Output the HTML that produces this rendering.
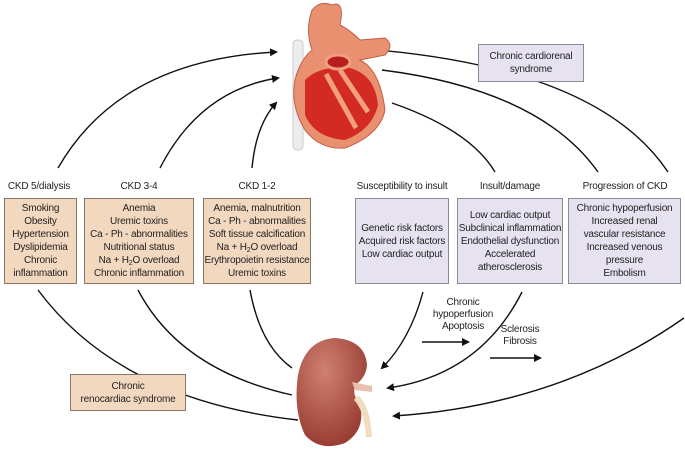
<!DOCTYPE html>
<html><head><style>
body{margin:0;background:#fff;}
.w{position:relative;width:685px;height:457px;overflow:hidden;font-family:"Liberation Sans",sans-serif;color:#222;}
.b{position:absolute;box-sizing:border-box;border:1.5px solid #8a7464;background:#f3d8c0;font-size:10px;line-height:13px;text-align:center;display:flex;align-items:center;justify-content:center;white-space:nowrap;letter-spacing:-0.2px;}
.p{background:#e6e2ef;border-color:#8c8a96;}
.l{position:absolute;font-size:10px;text-align:center;white-space:nowrap;letter-spacing:-0.2px;}
sub{font-size:7px;line-height:0;vertical-align:-2px;}
</style></head><body><div class="w">
<svg width="685" height="457" style="position:absolute;left:0;top:0">
<defs><marker id="a" markerWidth="8" markerHeight="8" refX="6" refY="4" orient="auto" markerUnits="userSpaceOnUse"><path d="M0,0 L8,4 L0,8 z" fill="#111"/></marker>
<radialGradient id="k" cx="0.4" cy="0.3" r="0.7"><stop offset="0" stop-color="#d08070"/><stop offset="1" stop-color="#9a3e34"/></radialGradient></defs>
<g fill="none" stroke="#111" stroke-width="1.4">
<path d="M58,168 Q120,60 276,52" marker-end="url(#a)"/>
<path d="M160,168 Q200,90 278,78" marker-end="url(#a)"/>
<path d="M252,168 Q256,125 276,103" marker-end="url(#a)"/>
<path d="M378,50 Q600,70 668,172"/>
<path d="M382,70 Q540,90 598,172"/>
<path d="M392,103 Q470,130 495,172"/>
<path d="M38,290 Q120,400 298,420"/>
<path d="M138,290 Q180,370 292,395"/>
<path d="M250,290 Q260,345 292,368"/>
<path d="M423,292 Q410,340 382,368" marker-end="url(#a)"/>
<path d="M522,292 Q480,375 388,388" marker-end="url(#a)"/>
<path d="M684,318 Q560,405 394,416" marker-end="url(#a)"/>
<path d="M422,342 L468,342" marker-end="url(#a)"/>
<path d="M490,358 L540,358" marker-end="url(#a)"/>
</g>
<rect x="293" y="40" width="10" height="110" rx="4" fill="#ececec" stroke="#ccc"/>
<path d="M312,10 Q320,0 332,5 Q345,0 340,25 Q350,30 360,40 L385,38 Q395,45 385,55 L360,60 Q380,70 385,110 Q380,135 345,148 Q320,150 305,130 Q290,105 295,80 Q300,60 312,50 Q305,30 312,10z" fill="#e99070" stroke="#c0604a"/>
<path d="M305,80 Q320,65 350,68 Q375,75 378,105 Q372,130 345,140 Q315,138 305,115z" fill="#d42a24"/>
<path d="M326,74 L356,128 M340,70 L368,112" stroke="#f0a080" stroke-width="5" fill="none"/>
<ellipse cx="338" cy="62" rx="12" ry="7" fill="#b81e1e" stroke="#f0a080" stroke-width="3"/>
<path d="M335,338 Q365,340 367,365 Q366,378 355,385 Q352,395 360,405 Q366,430 345,443 Q320,452 305,435 Q293,410 298,375 Q305,340 335,338z" fill="url(#k)"/>
<path d="M352,382 L372,386 L372,392 L355,390z" fill="#e8c0b0"/>
<path d="M358,395 Q370,405 372,437 L366,437 Q364,410 354,400z" fill="#f0ddc0"/>
</svg>
<div class="b p" style="left:478px;top:44px;width:106px;height:38px"><div>Chronic cardiorenal<br>syndrome</div></div>
<div class="l" style="left:0;width:78px;top:181px">CKD 5/dialysis</div>
<div class="l" style="left:84px;width:110px;top:181px">CKD 3-4</div>
<div class="l" style="left:203px;width:108px;top:181px">CKD 1-2</div>
<div class="l" style="left:350px;width:104px;top:181px">Susceptibility to insult</div>
<div class="l" style="left:457px;width:106px;top:181px">Insult/damage</div>
<div class="l" style="left:568px;width:114px;top:181px">Progression of CKD</div>
<div class="b" style="left:4px;top:198px;width:73px;height:86px"><div>Smoking<br>Obesity<br>Hypertension<br>Dyslipidemia<br>Chronic<br>inflammation</div></div>
<div class="b" style="left:84px;top:198px;width:110px;height:86px"><div>Anemia<br>Uremic toxins<br>Ca - Ph - abnormalities<br>Nutritional status<br>Na + H<sub>2</sub>O overload<br>Chronic inflammation</div></div>
<div class="b" style="left:203px;top:198px;width:108px;height:86px"><div>Anemia, malnutrition<br>Ca - Ph - abnormalities<br>Soft tissue calcification<br>Na + H<sub>2</sub>O overload<br>Erythropoietin resistance<br>Uremic toxins</div></div>
<div class="b p" style="left:355px;top:198px;width:94px;height:86px"><div>Genetic risk factors<br>Acquired risk factors<br>Low cardiac output</div></div>
<div class="b p" style="left:457px;top:198px;width:106px;height:86px"><div>Low cardiac output<br>Subclinical inflammation<br>Endothelial dysfunction<br>Accelerated<br>atherosclerosis</div></div>
<div class="b p" style="left:568px;top:198px;width:113px;height:86px"><div>Chronic hypoperfusion<br>Increased renal<br>vascular resistance<br>Increased venous<br>pressure<br>Embolism</div></div>
<div class="l" style="left:420px;width:86px;top:297px;line-height:12px">Chronic<br>hypoperfusion<br>Apoptosis</div>
<div class="l" style="left:490px;width:60px;top:324px;line-height:12px">Sclerosis<br>Fibrosis</div>
<div class="b" style="left:70px;top:374px;width:116px;height:37px"><div>Chronic<br>renocardiac syndrome</div></div>
</div></body></html>
